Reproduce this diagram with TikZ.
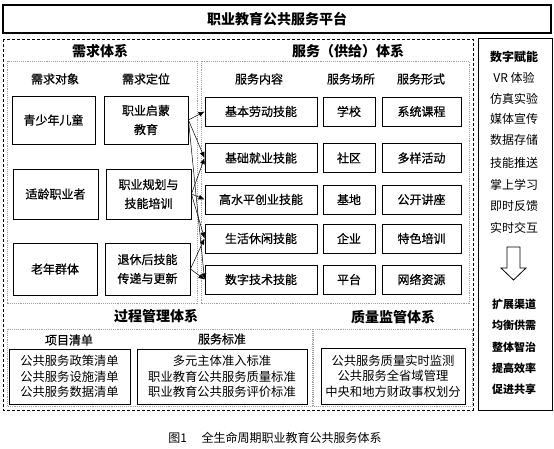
\documentclass[tikz,border=0pt]{standalone}
\usepackage{fontspec}
\setmainfont{Noto Sans CJK SC}
\newfontfamily\semib{Noto Sans CJK SC}[FakeBold=0.6]
\usetikzlibrary{arrows.meta}
\begin{document}
\begin{tikzpicture}[x=1pt,y=-1pt,
  box/.style={draw, line width=0.9pt, align=center, inner sep=0pt, font=\semib\fontsize{12}{19}\selectfont},
  lbox/.style={draw, line width=0.9pt, align=center, inner sep=0pt, font=\fontsize{12.3}{15.5}\selectfont},
  ttl/.style={font=\bfseries\fontsize{14}{16}\selectfont, inner sep=0pt},
  hdr/.style={font=\semib\fontsize{12}{14}\selectfont, inner sep=0pt},
  rtxt/.style={font=\fontsize{12}{14}\selectfont, inner sep=0pt},
  rtxtb/.style={font=\bfseries\fontsize{11}{13}\selectfont, inner sep=0pt},
  dotbox/.style={draw=gray!75, densely dotted, line width=0.9pt},
  dashbox/.style={draw, dash pattern=on 3pt off 2pt, line width=0.8pt},
  arr/.style={-{Latex[length=6pt,width=5pt]}, line width=0.5pt}]
\useasboundingbox[fill=white] (0,0) rectangle (554,449);

% platform title
\node[draw, line width=1.1pt, minimum width=548pt, minimum height=28pt, inner sep=0pt,
  font=\bfseries\fontsize{14}{16}\selectfont] (plat) at (277,19) {职业教育公共服务平台};

% frames
\draw[dashbox] (3,39) rectangle (473,410);
\draw[dotbox] (7,61) rectangle (197,303);
\draw[dotbox] (201,61) rectangle (469,303);
\draw[dotbox] (7,329) rectangle (312,406);
\draw[dotbox] (313,329) rectangle (472,406);
\draw[line width=1pt] (478,39) rectangle (552,410);

% section titles
\node[ttl] (t1) at (100,51) {需求体系};
\node[ttl] (t2) at (348,51) {服务（供给）体系};
\node[ttl] (t3) at (156,316) {过程管理体系};
\node[ttl] (t4) at (393,317) {质量监管体系};

% headers
\node[hdr] (h1) at (55,79) {需求对象};
\node[hdr] (h2) at (146,79) {需求定位};
\node[hdr] (h3) at (259,79) {服务内容};
\node[hdr] (h4) at (351,79) {服务场所};
\node[hdr] (h5) at (421,79) {服务形式};
\node[hdr] (h6) at (69,340) {项目清单};
\node[hdr] (h7) at (222,339) {服务标准};

% demand boxes
\node[box, minimum width=83pt, minimum height=48pt] (q1) at (53.5,120) {青少年儿童};
\node[box, minimum width=84pt, minimum height=48pt] (d1) at (146,120) {职业启蒙\\教育};
\node[box, minimum width=85pt, minimum height=50pt] (q2) at (55.5,194) {适龄职业者};
\node[box, minimum width=85pt, minimum height=50pt] (d2) at (148.5,194) {职业规划与\\技能培训};
\node[box, minimum width=84pt, minimum height=52pt] (q3) at (55,269) {老年群体};
\node[box, minimum width=85pt, minimum height=52pt] (d3) at (147.5,269) {退休后技能\\传递与更新};

% service boxes
\foreach \n/\y/\c/\p/\f in {1/111.5/基本劳动技能/学校/系统课程,
                            2/158/基础就业技能/社区/多样活动,
                            3/199.5/高水平创业技能/基地/公开讲座,
                            4/238.5/生活休闲技能/企业/特色培训,
                            5/279.5/数字技术技能/平台/网络资源}{
  \node[box, minimum width=112pt, minimum height=29pt] (c\n) at (261,\y) {\c};
  \node[box, minimum width=52pt, minimum height=29pt] (p\n) at (349,\y) {\p};
  \node[box, minimum width=79pt, minimum height=29pt] (f\n) at (421.5,\y) {\f};
}

% arrows
\draw[arr] (d1.east) -- (c1.west);
\draw[arr] (d1.east) -- (c2.west);
\draw[arr] (d1.east) -- (c5.west);
\draw[arr] (d2.east) -- (c2.west);
\draw[arr] (d2.east) -- (c3.west);
\draw[arr] (d2.east) -- (c4.west);
\draw[arr] (d3.east) -- (c4.west);
\draw[arr] (d3.east) -- (c5.west);

% bottom boxes
\node[lbox, minimum width=121pt, minimum height=55pt] (lst) at (69.5,376.5)
  {公共服务政策清单\\公共服务设施清单\\公共服务数据清单};
\node[lbox, minimum width=170pt, minimum height=55pt] (std) at (222,376.5)
  {多元主体准入标准\\职业教育公共服务质量标准\\职业教育公共服务评价标准};
\node[lbox, minimum width=144pt, minimum height=56pt] (qua) at (393,376)
  {公共服务质量实时监测\\公共服务全省域管理\\中央和地方财政事权划分};

% digital empowerment column
\node[font=\bfseries\fontsize{12}{14}\selectfont, inner sep=0pt] (r0) at (514,57) {数字赋能};
\node[rtxt] (r1) at (514,78) {VR 体验};
\node[rtxt] (r2) at (514,99) {仿真实验};
\node[rtxt] (r3) at (514,119) {媒体宣传};
\node[rtxt] (r4) at (514,140) {数据存储};
\node[rtxt] (r5) at (514,163) {技能推送};
\node[rtxt] (r6) at (514,185) {掌上学习};
\node[rtxt] (r7) at (514,206) {即时反馈};
\node[rtxt] (r8) at (514,228) {实时交互};
\draw[line width=0.8pt] (507,247) -- (520,247) -- (520,268) -- (526,268) -- (513.5,280)
  -- (501,268) -- (507,268) -- cycle;
\node[rtxtb] (s1) at (514,304) {扩展渠道};
\node[rtxtb] (s2) at (514,325) {均衡供需};
\node[rtxtb] (s3) at (514,347) {整体智治};
\node[rtxtb] (s4) at (514,368) {提高效率};
\node[rtxtb] (s5) at (514,389) {促进共享};

% caption
\node[font=\fontsize{12}{14}\selectfont, inner sep=0pt] (cap) at (275,438) {图1\hspace{1.2em}全生命周期职业教育公共服务体系};
\end{tikzpicture}
\end{document}
